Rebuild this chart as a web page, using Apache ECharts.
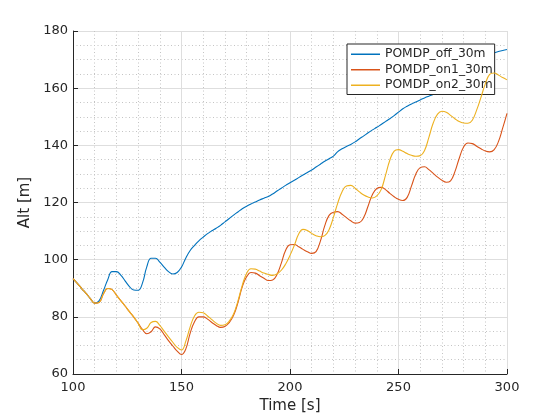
<!DOCTYPE html>
<html>
<head>
<meta charset="utf-8">
<script src="https://cdn.jsdelivr.net/npm/echarts@6/dist/echarts.min.js"></script>
<style>
  html, body { margin: 0; padding: 0; background: #fff; }
  #main { width: 560px; height: 420px; }
</style>
</head>
<body>
<div id="main"></div>
<script>
// time axis, one sample every 2 s
var time = [100, 102, 104, 106, 108, 110, 112, 114, 116, 118,
            120, 122, 124, 126, 128, 130, 132, 134, 136, 138,
            140, 142, 144, 146, 148, 150, 152, 154, 156, 158,
            160, 162, 164, 166, 168, 170, 172, 174, 176, 178,
            180, 182, 184, 186, 188, 190, 192, 194, 196, 198,
            200, 202, 204, 206, 208, 210, 212, 214, 216, 218,
            220, 222, 224, 226, 228, 230, 232, 234, 236, 238,
            240, 242, 244, 246, 248, 250, 252, 254, 256, 258,
            260, 262, 264, 266, 268, 270, 272, 274, 276, 278,
            280, 282, 284, 286, 288, 290, 292, 294, 296, 298, 300];

var altOff = [93.4, 91.7, 89.9, 88.2, 86.4, 84.8, 85.6, 89.1, 93.0, 95.8,
              95.8, 94.6, 92.6, 90.6, 89.4, 89.3, 91.8, 97.5, 100.5, 100.5,
              99.1, 97.4, 95.8, 95.0, 95.5, 97.4, 100.6, 103.2, 105.0, 106.6,
              107.9, 109.1, 110.1, 111.0, 112.0, 113.2, 114.4, 115.6, 116.7, 117.8,
              118.7, 119.5, 120.2, 120.9, 121.5, 122.1, 123.0, 124.0, 125.0, 126.0,
              126.9, 127.8, 128.7, 129.6, 130.5, 131.4, 132.4, 133.4, 134.4, 135.3,
              136.2, 137.8, 138.8, 139.6, 140.3, 141.2, 142.3, 143.3, 144.4, 145.4,
              146.3, 147.3, 148.3, 149.3, 150.4, 151.6, 152.8, 153.7, 154.5, 155.2,
              155.9, 156.6, 157.2, 157.8, 158.5, 159.6, 160.7, 161.8, 162.9, 164.0,
              165.0, 166.1, 167.1, 168.1, 169.2, 170.3, 171.4, 172.3, 172.8, 173.2, 173.5];

var altOn1 = [93.4, 91.7, 89.9, 88.2, 86.4, 84.8, 85.0, 88.0, 89.9, 89.5,
              87.6, 85.7, 83.8, 81.8, 79.9, 77.8, 75.6, 74.1, 74.8, 76.5,
              75.8, 73.8, 71.7, 69.8, 68.0, 66.8, 68.8, 74.3, 78.3, 80.0,
              80.0, 79.2, 78.0, 77.0, 76.3, 76.6, 78.0, 80.5, 85.0, 90.5,
              94.0, 95.5, 95.3, 94.4, 93.5, 92.7, 92.9, 94.8, 98.8, 103.3,
              105.2, 105.3, 104.5, 103.6, 102.8, 102.2, 102.8, 106.5, 111.8, 115.5,
              116.6, 116.8, 115.9, 114.7, 113.6, 112.8, 113.0, 114.8, 118.8, 122.8,
              124.9, 125.3, 124.5, 123.2, 122.0, 121.1, 120.7, 121.8, 125.8, 130.0,
              132.2, 132.5, 131.5, 130.2, 128.9, 127.8, 127.1, 127.6, 130.8, 135.5,
              139.4, 140.8, 140.6, 139.7, 138.8, 138.0, 137.7, 138.4, 141.2, 146.0, 151.2];

var altOn2 = [93.4, 91.7, 89.9, 88.2, 86.4, 84.8, 85.0, 88.0, 89.9, 89.5,
              87.6, 85.7, 83.8, 81.8, 79.9, 77.8, 75.5, 76.0, 78.0, 78.4,
              77.0, 75.0, 73.0, 71.1, 69.3, 68.4, 71.5, 76.5, 80.3, 81.6,
              81.4, 80.3, 79.0, 77.8, 77.0, 77.2, 78.5, 81.0, 85.5, 91.0,
              95.2, 96.8, 96.7, 96.0, 95.3, 94.8, 94.5, 95.0, 96.3, 98.5,
              101.5, 105.0, 109.0, 110.6, 110.2, 109.2, 108.4, 108.0, 108.4, 110.5,
              114.8, 119.8, 123.8, 125.8, 126.0, 125.0, 123.7, 122.6, 121.9, 121.6,
              122.3, 124.5, 129.5, 134.8, 138.0, 138.5, 137.9, 137.1, 136.5, 136.2,
              136.4, 138.2, 142.8, 147.8, 150.9, 151.9, 151.6, 150.5, 149.3, 148.3,
              147.8, 147.7, 148.8, 152.3, 156.8, 161.5, 164.8, 165.3, 164.6, 163.7, 162.9];

var seriesNames = ['POMDP_off_30m', 'POMDP_on1_30m', 'POMDP_on2_30m'];
var seriesColors = ['#0072BD', '#D95319', '#EDB120'];
var seriesValues = [altOff, altOn1, altOn2];

var textColor = '#262626';
var font = 'DejaVu Sans';

var myChart = echarts.init(document.getElementById('main'), null, { renderer: 'canvas' });

var option = {
  animation: false,
  backgroundColor: '#fff',
  textStyle: { fontFamily: font, color: textColor },
  grid: { left: 73, top: 31, width: 434, height: 343, containLabel: false },
  legend: {
    orient: 'vertical',
    left: 347,
    top: 44,
    padding: [3, 2, 2, 4],
    itemGap: 1,
    itemWidth: 29,
    itemHeight: 1.5,
    icon: 'rect',
    backgroundColor: '#fff',
    borderColor: textColor,
    borderWidth: 1,
    borderRadius: 0,
    textStyle: { fontFamily: font, fontSize: 12.3, color: textColor, lineHeight: 14.5 },
    data: seriesNames
  },
  xAxis: {
    type: 'value',
    min: 100,
    max: 300,
    interval: 50,
    name: 'Time [s]',
    nameLocation: 'middle',
    nameGap: 25,
    nameTextStyle: { fontFamily: font, fontSize: 15, color: textColor },
    axisLine: { show: true, lineStyle: { color: textColor, width: 1 } },
    axisTick: { show: true, inside: true, length: 5, lineStyle: { color: textColor } },
    axisLabel: { fontFamily: font, fontSize: 13, color: textColor, margin: 7 },
    splitLine: { show: true, lineStyle: { color: '#dedede', width: 1 } },
    minorTick: { show: false, splitNumber: 5 },
    minorSplitLine: { show: true, lineStyle: { color: '#c4c4c4', width: 1, type: [1, 2.5] } }
  },
  yAxis: {
    type: 'value',
    min: 60,
    max: 180,
    interval: 20,
    name: 'Alt [m]',
    nameLocation: 'middle',
    nameGap: 30,
    nameTextStyle: { fontFamily: font, fontSize: 15, color: textColor },
    axisLine: { show: true, lineStyle: { color: textColor, width: 1 } },
    axisTick: { show: true, inside: true, length: 5, lineStyle: { color: textColor } },
    axisLabel: { fontFamily: font, fontSize: 13, color: textColor, margin: 5 },
    splitLine: { show: true, lineStyle: { color: '#dedede', width: 1 } },
    minorTick: { show: false, splitNumber: 4 },
    minorSplitLine: { show: true, lineStyle: { color: '#c4c4c4', width: 1, type: [1, 2.5] } }
  },
  series: seriesNames.map(function (name, k) {
    return {
      name: name,
      type: 'line',
      data: time.map(function (t, i) { return [t, seriesValues[k][i]]; }),
      showSymbol: false,
      smooth: 0.45,
      color: seriesColors[k],
      lineStyle: { color: seriesColors[k], width: 1.1 },
      z: 2 + k
    };
  })
};

myChart.setOption(option);
</script>
</body>
</html>
